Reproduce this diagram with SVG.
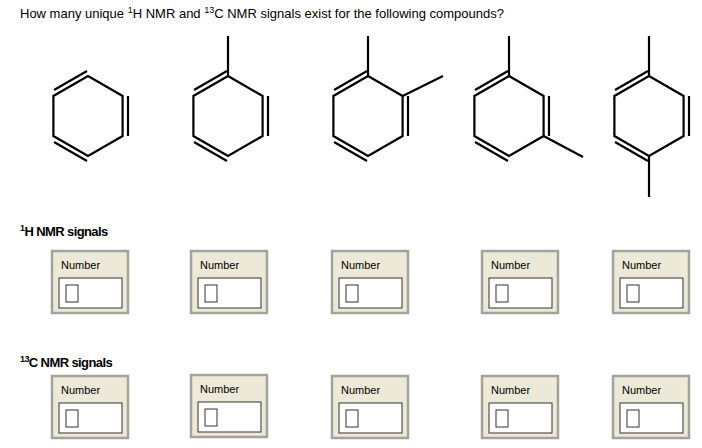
<svg xmlns="http://www.w3.org/2000/svg" width="702" height="448" viewBox="0 0 702 448">
<defs>
<style>
text{font-family:"Liberation Sans",Arial,sans-serif;fill:#000}
.t{font-size:13px}
.lbl{font-size:13px;font-weight:bold;letter-spacing:-0.6px}
.n{font-size:11px}
.bond{stroke:#000;stroke-width:2.2;fill:none}
.outer{fill:#ece9d8;stroke:#a3a39b;stroke-width:2.5}
.inner{fill:#fff;stroke:#333;stroke-width:1}
.sm{fill:#fff;stroke:#333;stroke-width:1}
</style>
<g id="ring" class="bond">
<polygon points="0,-40 34.6,-20 34.6,20 0,40 -34.6,20 -34.6,-20"/>
<line x1="-34" y1="-26" x2="-1" y2="-45"/>
<line x1="40" y1="-20" x2="40" y2="20"/>
<line x1="-34" y1="26" x2="-1" y2="45"/>
</g>
<g id="box">
<rect class="outer" x="0" y="0" width="76" height="62"/>
<text class="n" x="9" y="18">Number</text>
<rect class="inner" x="7" y="27" width="63" height="30"/>
<rect class="sm" x="14" y="34" width="12" height="17"/>
</g>
</defs>
<rect width="702" height="448" fill="#fff"/>
<text class="t" x="20" y="18">How many unique <tspan font-size="9" dy="-5">1</tspan><tspan dy="5">H NMR and </tspan><tspan font-size="9" dy="-5">13</tspan><tspan dy="5">C NMR signals exist for the following compounds?</tspan></text>
<g class="bond">
<g id="m1"><use href="#ring" x="88" y="116"/></g>
<g id="m2"><use href="#ring" x="228" y="116"/><line x1="228" y1="76" x2="228" y2="36"/></g>
<g id="m3"><use href="#ring" x="368" y="116"/><line x1="368" y1="76" x2="368" y2="36"/><line x1="402.6" y1="96" x2="443" y2="76"/></g>
<g id="m4"><use href="#ring" x="509" y="116"/><line x1="509" y1="76" x2="509" y2="36"/><line x1="543.6" y1="136" x2="583" y2="157"/></g>
<g id="m5"><use href="#ring" x="649" y="116"/><line x1="649" y1="76" x2="649" y2="36"/><line x1="649" y1="156" x2="649" y2="197"/></g>
</g>
<text class="lbl" x="20" y="236"><tspan font-size="9" dy="-5">1</tspan><tspan dy="5">H NMR signals</tspan></text>
<text class="lbl" x="20" y="367"><tspan font-size="9" dy="-5">13</tspan><tspan dy="5">C NMR signals</tspan></text>
<g id="h1"><use href="#box" x="52" y="251"/></g>
<g id="h2"><use href="#box" x="191" y="251"/></g>
<g id="h3"><use href="#box" x="332" y="251"/></g>
<g id="h4"><use href="#box" x="482" y="251"/></g>
<g id="h5"><use href="#box" x="613" y="251"/></g>
<g id="c1"><use href="#box" x="52" y="376"/></g>
<g id="c2"><use href="#box" x="191" y="375"/></g>
<g id="c3"><use href="#box" x="332" y="376"/></g>
<g id="c4"><use href="#box" x="482" y="376"/></g>
<g id="c5"><use href="#box" x="613" y="376"/></g>
</svg>
